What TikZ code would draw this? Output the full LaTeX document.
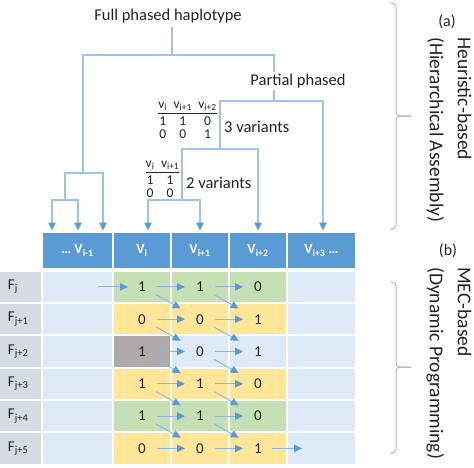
\documentclass[tikz,border=0pt]{standalone}
\usepackage{fontspec}
\setmainfont{Carlito}
\usepackage{xcolor}
\usepackage{tikz}
\usetikzlibrary{arrows.meta, positioning, calc}

\definecolor{hdrblue}{HTML}{5B9BD5}
\definecolor{cellblue}{HTML}{DEEBF7}
\definecolor{labgray}{HTML}{D6DCE4}
\definecolor{cellgreen}{HTML}{C5E0B4}
\definecolor{cellyellow}{HTML}{FFE699}
\definecolor{cellgray}{HTML}{AEAAAA}
\definecolor{linkblue}{HTML}{9DC3E6}
\definecolor{bracegray}{HTML}{ADB9CA}
\definecolor{txt}{HTML}{222222}

\begin{document}
\begin{tikzpicture}[x=1pt, y=-1pt,
        cell/.style={rectangle, inner sep=0pt, minimum height=30.3pt, font=\fontsize{15}{18}\selectfont, text=txt},
        hdr/.style={rectangle, fill=hdrblue, inner sep=0pt, minimum height=35pt, text=white, font=\fontsize{14}{16}\selectfont\bfseries},
        lbl/.style={inner sep=0pt, text=txt, font=\fontsize{16.5}{19}\selectfont},
        mat/.style={inner sep=0pt, text=txt, font=\fontsize{13.5}{12}\selectfont},
        side/.style={inner sep=0pt, text=txt, align=left, font=\fontsize{19.5}{28}\selectfont},
        tline/.style={draw=linkblue, line width=1.2pt},
        tarrow/.style={tline, -{Triangle[length=8pt, width=7.5pt, color=hdrblue]}},
        garrow/.style={draw=linkblue!70!hdrblue, line width=1pt, -{Triangle[length=8pt, width=7.5pt, color=hdrblue]}},
        brc/.style={draw=bracegray, line width=1pt, rounded corners=4pt}
    ]
        \useasboundingbox (0,0) rectangle (474,467);

        % Tree of phased blocks
        \node[lbl] (full) at (168,16) {Full phased haplotype};

        \coordinate (root) at (172,55);
        \coordinate (lft) at (83,173);
        \coordinate (lsub) at (65,200);
        \coordinate (part) at (274,101);
        \coordinate (var3) at (220,149);
        \coordinate (var2) at (182,200);
        \coordinate (t1) at (52,230.5);
        \coordinate (t2) at (78,230.5);
        \coordinate (t3) at (103,230.5);
        \coordinate (t4) at (148,230.5);
        \coordinate (t5) at (200,230.5);
        \coordinate (t6) at (258,230.5);
        \coordinate (t7) at (323,230.5);

        \draw[tline, shorten <=4pt] (full.south -| root) -- (root);
        \draw[tline] (lft) |- (root) -| (part);
        \draw[tarrow] (lft) -| (t3);
        \draw[tline] (lft) -| (lsub);
        \draw[tarrow] (lsub) -| (t1);
        \draw[tarrow] (lsub) -| (t2);
        \draw[tarrow] (part) -| (t7);
        \draw[tline] (part) -| (var3);
        \draw[tarrow] (var3) -| (t6);
        \draw[tline] (var3) -| (var2);
        \draw[tarrow] (var2) -| (t4);
        \draw[tarrow] (var2) -| (t5);

        \node[lbl, fill=white, inner ysep=2pt] (partial) at (298,81) {Partial phased};
        \node[lbl, anchor=west] (three) at (224,127) {3 variants};
        \node[lbl, anchor=west] (two) at (186,183) {2 variants};

        \renewcommand{\arraystretch}{1}
        \setlength{\arrayrulewidth}{0.8pt}
        \node[mat] (mat3) at (187.5,121) {\begin{tabular}{@{}c@{\hspace{6.5pt}}c@{\hspace{6.5pt}}c@{}}
            v\textsubscript{i} & v\textsubscript{i+1} & v\textsubscript{i+2}\\[1pt]\hline\noalign{\vskip 3pt}
            1 & 1 & 0\\
            0 & 0 & 1
        \end{tabular}};
        \node[mat] (mat2) at (162.5,180) {\begin{tabular}{@{}c@{\hspace{6.5pt}}c@{}}
            v\textsubscript{i} & v\textsubscript{i+1}\\[1pt]\hline\noalign{\vskip 3pt}
            1 & 1\\
            0 & 0
        \end{tabular}};

        % Variant header
        \node[hdr, minimum width=69pt] (h1) at (77.5,250.5) {… V\textsubscript{i-1}};
        \node[hdr, minimum width=56pt] (h2) at (142,250.5) {V\textsubscript{i}};
        \node[hdr, minimum width=56pt] (h3) at (200,250.5) {V\textsubscript{i+1}};
        \node[hdr, minimum width=56pt] (h4) at (258,250.5) {V\textsubscript{i+2}};
        \node[hdr, minimum width=67pt] (h5) at (321.5,250.5) {V\textsubscript{i+3} …};

        % Fragment rows
        \foreach \r/\s/\fa/\fb/\fc/\va/\vb/\vc in {
            1/j/cellgreen/cellgreen/cellgreen/1/1/0,
            2/j+1/cellyellow/cellyellow/cellyellow/0/0/1,
            3/j+2/cellgray/cellblue/cellblue/1/0/1,
            4/j+3/cellyellow/cellyellow/cellyellow/1/1/0,
            5/j+4/cellgreen/cellgreen/cellgreen/1/1/0,
            6/j+5/cellyellow/cellyellow/cellyellow/0/0/1} {
            \pgfmathsetmacro{\yy}{286.9+(\r-1)*32.3}
            \node[cell, fill=labgray, inner xsep=8pt, text width=25.5pt, align=left] (m\r0) at (20.7,\yy) {F\textsubscript{\s}};
            \node[cell, fill=cellblue, minimum width=69pt] (m\r1) at (77.5,\yy) {};
            \node[cell, fill=\fa, minimum width=56pt] (m\r2) at (142,\yy) {\va};
            \node[cell, fill=\fb, minimum width=56pt] (m\r3) at (200,\yy) {\vb};
            \node[cell, fill=\fc, minimum width=56pt] (m\r4) at (258,\yy) {\vc};
            \node[cell, fill=cellblue, minimum width=67pt] (m\r5) at (321.5,\yy) {};
        }

        \draw[garrow, shorten <=20.5pt, shorten >=14pt] (m11.center) -- (m12.center);
        \draw[garrow, shorten <=14pt, shorten >=19.5pt] (m64.center) -- (m65.center);
        \foreach \r in {1,...,6} {
            \draw[garrow, shorten <=15pt, shorten >=15pt] (m\r2.center) -- (m\r3.center);
            \draw[garrow, shorten <=15pt, shorten >=15pt] (m\r3.center) -- (m\r4.center);
        }
        \foreach \r [evaluate=\r as \n using int(\r+1)] in {1,...,5} {
            \draw[garrow, shorten <=16pt, shorten >=22pt] (m\r2.center) -- (m\n3.center);
            \draw[garrow, shorten <=16pt, shorten >=22pt] (m\r3.center) -- (m\n4.center);
        }

        % Braces and method labels
        \draw[brc] (390,3) -- (396,3) -- (396,116) -- (411,116);
        \draw[brc] (390,229) -- (396,229) -- (396,116) -- (411,116);
        \draw[brc] (390,282) -- (396,282) -- (396,367) -- (411,367);
        \draw[brc] (390,453) -- (396,453) -- (396,367) -- (411,367);

        \node[side, font=\fontsize{16}{19}\selectfont] (tag_a) at (447,22) {(a)};
        \node[side, rotate=-90, anchor=west] (heur) at (449,37) {Heuristic-based\\(Hierarchical Assembly)};
        \node[side, font=\fontsize{16}{19}\selectfont] (tag_b) at (448,251) {(b)};
        \node[side, rotate=-90, anchor=west] (mec) at (449,267) {MEC-based\\(Dynamic Programming)};
    \end{tikzpicture}
\end{document}
